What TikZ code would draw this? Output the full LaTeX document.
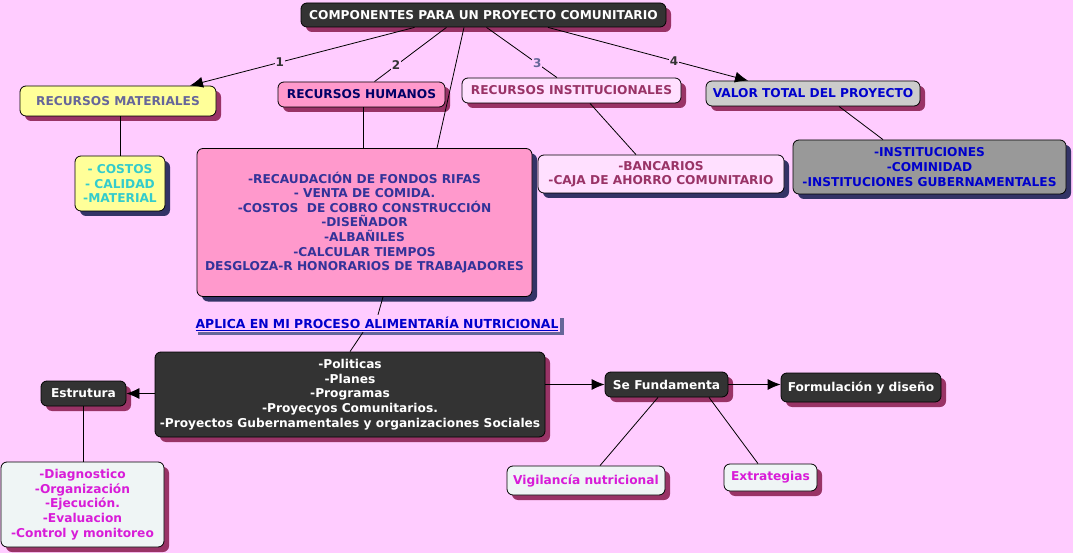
\documentclass[tikz,border=0pt]{standalone}
\usepackage{fontspec}
\setmainfont{DejaVu Sans}
\usetikzlibrary{arrows.meta, shadows}

\definecolor{fondo}{HTML}{FFCCFF}
\definecolor{oscuro}{HTML}{333333}
\definecolor{granate}{HTML}{993366}
\definecolor{marino}{HTML}{333366}
\definecolor{amarillo}{HTML}{FFFF99}
\definecolor{rosa}{HTML}{FF99CC}
\definecolor{rosaclaro}{HTML}{FFE0FF}
\definecolor{grisclaro}{HTML}{CCCCCC}
\definecolor{gris}{HTML}{999999}
\definecolor{hielo}{HTML}{EFF5F5}
\definecolor{magenta}{HTML}{D81CD8}
\definecolor{azul}{HTML}{0000CC}
\definecolor{violeta}{HTML}{666699}

\tikzset{
	concepto/.style={draw=black, line width=0.8pt, rounded corners=6pt, align=center, inner sep=2pt,
		font=\bfseries\fontsize{12.2}{14.6}\selectfont},
	sombra/.style={drop shadow={shadow xshift=5pt, shadow yshift=-5pt, fill=#1, opacity=1}},
	oscurobox/.style={concepto, fill=oscuro, text=white, sombra=granate},
	hielobox/.style={concepto, fill=hielo, text=magenta, sombra=granate},
	num/.style={fill=fondo, inner sep=1pt, font=\bfseries\fontsize{12}{14}\selectfont, text=oscuro}
}

\begin{document}
\begin{tikzpicture}[x=1pt, y=-1pt, line width=0.8pt, >={Latex[length=13pt, width=11pt]}]

		\useasboundingbox[fill=fondo] (0,0) rectangle (1073,553);

		% primer nivel
		\node[oscurobox, minimum width=365pt, minimum height=24pt] (titulo) at (483.5,15) {COMPONENTES PARA UN PROYECTO COMUNITARIO};
		\node[concepto, fill=amarillo, text=violeta, sombra=granate, minimum width=196pt, minimum height=30pt] (materiales) at (118,101) {RECURSOS MATERIALES};
		\node[concepto, fill=rosa, text={rgb,255:red,0;green,0;blue,102}, sombra=granate, minimum width=167pt, minimum height=25pt] (humanos) at (361.5,94.5) {RECURSOS HUMANOS};
		\node[concepto, fill=rosaclaro, text=granate, sombra=granate, minimum width=219pt, minimum height=25pt] (institucionales) at (571.5,90.5) {RECURSOS INSTITUCIONALES};
		\node[concepto, fill=grisclaro, text=azul, sombra=granate, minimum width=214pt, minimum height=25pt] (valor) at (813,93.5) {VALOR TOTAL DEL PROYECTO};

		% detalles
		\node[concepto, fill=amarillo, text={rgb,255:red,51;green,204;blue,204}, sombra=marino, minimum width=90pt, minimum height=55pt] (costos) at (120,183.5) {- COSTOS\\- CALIDAD\\-MATERIAL};
		\node[concepto, fill=rosa, text={rgb,255:red,51;green,51;blue,153}, sombra=marino, minimum width=335pt, minimum height=148pt] (humanosdet) at (364.5,222.5) {-RECAUDACIÓN DE FONDOS RIFAS\\- VENTA DE COMIDA.\\-COSTOS~ DE COBRO CONSTRUCCIÓN\\-DISEÑADOR\\-ALBAÑILES\\-CALCULAR TIEMPOS\\DESGLOZA-R HONORARIOS DE TRABAJADORES};
		\node[concepto, fill=rosaclaro, text=granate, sombra=marino, minimum width=246pt, minimum height=38pt] (bancarios) at (661,174) {-BANCARIOS\\-CAJA DE AHORRO COMUNITARIO};
		\node[concepto, fill=gris, text=azul, sombra=marino, minimum width=273pt, minimum height=54pt] (institdet) at (929.5,167) {-INSTITUCIONES\\-COMINIDAD\\-INSTITUCIONES GUBERNAMENTALES};

		\node[fill=fondo, inner sep=1.5pt, text=azul, font=\bfseries\fontsize{12.4}{14}\selectfont,
			drop shadow={shadow xshift=4pt, shadow yshift=-3pt, fill=violeta, opacity=1}] (aplica) at (377,323.5) {\underline{APLICA EN MI PROCESO ALIMENTARÍA NUTRICIONAL}};

		% segundo bloque
		\node[oscurobox, minimum width=390pt, minimum height=85pt] (politicas) at (350,394.5) {-Politicas\\-Planes\\-Programas\\-Proyecyos Comunitarios.\\-Proyectos Gubernamentales y organizaciones Sociales};
		\node[oscurobox, minimum width=85pt, minimum height=25pt] (estrutura) at (83.5,393.5) {Estrutura};
		\node[hielobox, minimum width=163pt, minimum height=85pt] (diagnostico) at (82.5,504.5) {-Diagnostico\\-Organización\\-Ejecución.\\-Evaluacion\\-Control y monitoreo};
		\node[oscurobox, minimum width=123pt, minimum height=25pt] (fundamenta) at (666.5,384.5) {Se Fundamenta};
		\node[oscurobox, minimum width=160pt, minimum height=29pt] (formulacion) at (861,387.5) {Formulación y diseño};
		\node[hielobox, minimum width=158pt, minimum height=29pt] (vigilancia) at (586,480.5) {Vigilancía nutricional};
		\node[hielobox, minimum width=93pt, minimum height=27pt] (extrategias) at (770.5,477.5) {Extrategias};

		\draw
		([xshift=-69pt]titulo.south) edge[->] node[num, pos=0.6] {1} ([xshift=72pt]materiales.north)
		([xshift=-37pt]titulo.south) edge node[num, pos=0.7] {2} ([xshift=13pt]humanos.north)
		([xshift=-19.5pt]titulo.south) edge ([xshift=72.5pt]humanosdet.north)
		([xshift=3pt]titulo.south) edge node[num, pos=0.72, text=violeta] {3} ([xshift=-14.5pt]institucionales.north)
		([xshift=64.5pt]titulo.south) edge[->] node[num, pos=0.63] {4} ([xshift=-65pt]valor.north)
		(costos.north |- materiales.south) edge (costos.north)
		([xshift=1.5pt]humanos.south) edge ([xshift=1.5pt]humanos.south |- humanosdet.north)
		([xshift=18.5pt]institucionales.south) edge ([xshift=-25pt]bancarios.north)
		([xshift=26pt]valor.south) edge ([xshift=-46.5pt]institdet.north)
		([xshift=18.5pt]humanosdet.south) edge ([xshift=1pt]aplica.north)
		([xshift=-14pt]aplica.south) edge (politicas.north)
		(politicas.west |- estrutura.east) edge[->] (estrutura.east)
		(estrutura.south) edge (estrutura.south |- diagnostico.north)
		(politicas.east |- fundamenta.west) edge[->] (fundamenta.west)
		(fundamenta.east) edge[->] (formulacion.west |- fundamenta.east)
		([xshift=-8.5pt]fundamenta.south) edge ([xshift=14pt]vigilancia.north)
		([xshift=42.5pt]fundamenta.south) edge ([xshift=-12.5pt]extrategias.north);
		\end{tikzpicture}
\end{document}
